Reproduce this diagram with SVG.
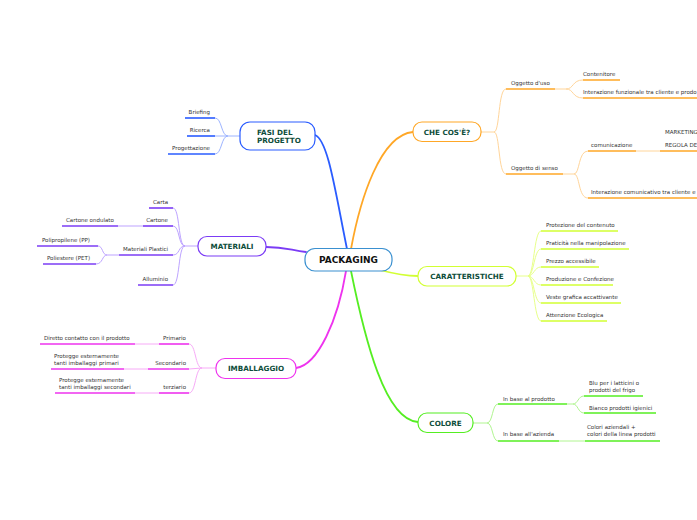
<svg xmlns="http://www.w3.org/2000/svg" width="697" height="520" viewBox="0 0 697 520">
<style>
.t{font-family:"DejaVu Sans",Verdana,sans-serif;font-size:5.5px;fill:#333}
.m{font-family:"DejaVu Sans",Verdana,sans-serif;font-weight:bold;font-size:7.2px;fill:#0d4d3a}
.e{text-anchor:end}
.c{text-anchor:middle}
.box{fill:#fff;stroke-width:1.2}
.u{fill:none;stroke-width:1.6}
.l{fill:none;stroke-width:1}
.main{fill:none;stroke-width:1.8;stroke-linecap:round}
.bl{stroke:#2a5cff}.bll{stroke:#9db4ff}
.or{stroke:#ffa726}.orl{stroke:#ffd59a}
.pu{stroke:#7b3cf5}.pul{stroke:#bda3ff}
.ye{stroke:#d2ff33}.yel{stroke:#e8ff8a}
.mg{stroke:#ee33ee}.mgl{stroke:#f7aaf7}
.gr{stroke:#55ee22}.grl{stroke:#b0f590}
</style>
<rect width="697" height="520" fill="#fff"/>
<g id="connectors">
<path class="main bl" d="M315,135 C328,140 335,190 347,249"/>
<path class="main or" d="M351,249 C360,200 380,135 413,132"/>
<path class="main pu" d="M266,247 C285,247 290,250 306,252"/>
<path class="main ye" d="M380,270 C395,274 405,276 418,276"/>
<path class="main mg" d="M346,271 C338,320 318,365 296,368"/>
<path class="main gr" d="M351,271 C365,340 385,420 418,422"/>
<path class="l bll" d="M240,136 L228,136 C221,136 222,118 215,118 M228,136 L215,136 M228,136 C221,136 222,154 215,154"/>
<path class="l orl" d="M481,132 L494,132 C500,132 498,89 506,89 M494,132 C500,132 498,174 506,174"/>
<path class="l orl" d="M555,89 L566,89 C574,89 572,80 583,80 M566,89 C574,89 572,98 583,98"/>
<path class="l orl" d="M563,174 L574,174 C580,174 578,151 588,151 M574,174 C580,174 578,198 588,198"/>
<path class="l orl" d="M636,151 L660,151"/>
<path class="l pul" d="M198,246 L185,246 C178,246 180,208 173,208 M185,246 C178,246 180,226 173,226 M185,246 C178,246 180,255 173,255 M185,246 C178,246 180,285 173,285"/>
<path class="l pul" d="M143,226 L118,226"/>
<path class="l pul" d="M119,255 L107,255 C102,255 103,246 98,246 M107,255 C102,255 103,264 96,264"/>
<path class="l yel" d="M516,276 L528,276 C534,276 534,231 541,231 M528,276 C534,276 534,249 541,249 M528,276 C534,276 534,267 541,267 M528,276 C534,276 534,285 541,285 M528,276 C534,276 534,303 541,303 M528,276 C534,276 534,321 541,321"/>
<path class="l mgl" d="M216,368 L202,368 C195,368 196,344 189,344 M202,368 L189,369 M202,368 C195,368 196,393 189,393"/>
<path class="l mgl" d="M159,344 L135,344 M148,369 L124,369 M159,393 L135,393"/>
<path class="l grl" d="M473,423 L487,423 C493,423 492,404 498,404 M487,423 C493,423 492,441 498,441"/>
<path class="l grl" d="M567,404 L573,404 C578,404 578,396 584,396 M573,404 C578,404 578,413 584,413"/>
<path class="l grl" d="M559,441 L585,441"/>
</g>
<g id="packaging">
<rect class="box" x="305" y="248.5" width="87" height="22.5" rx="10" stroke="#3a90d0"/>
<text x="348.5" y="263.3" class="c" style="font-family:'DejaVu Sans',Verdana,sans-serif;font-weight:bold;font-size:9px;fill:#111">PACKAGING</text>
</g>
<g id="fasi-del-progetto">
<rect class="box" x="240" y="122" width="75" height="28" rx="10" stroke="#2a5cff"/>
<text class="m" x="257" y="134.9">FASI DEL</text>
<text class="m" x="257" y="143.3">PROGETTO</text>
</g>
<g id="briefing"><path class="u bl" d="M185,118 H215"/><text class="t e" x="210" y="113.9">Briefing</text></g>
<g id="ricerca"><path class="u bl" d="M187,136 H215"/><text class="t e" x="210" y="131.9">Ricerca</text></g>
<g id="progettazione"><path class="u bl" d="M168,154 H215"/><text class="t e" x="210" y="149.9">Progettazione</text></g>
<g id="che-cose">
<rect class="box" x="413" y="122" width="68" height="19.5" rx="9" stroke="#ffa726"/>
<text class="m c" x="447" y="134.6">CHE COS'È?</text>
</g>
<g id="oggetto-uso"><path class="u or" d="M506,89 H555"/><text class="t" x="511" y="85">Oggetto d'uso</text></g>
<g id="contenitore"><path class="u or" d="M583,80 H620"/><text class="t" x="583" y="76">Contenitore</text></g>
<g id="interazione-funzionale"><path class="u or" d="M583,98 H700"/><text class="t" x="583" y="94.2">Interazione funzionale tra cliente e prodo</text></g>
<g id="oggetto-senso"><path class="u or" d="M506,174 H563"/><text class="t" x="511" y="170.2">Oggetto di senso</text></g>
<g id="comunicazione"><path class="u or" d="M588,151 H636"/><text class="t" x="591" y="147">comunicazione</text></g>
<g id="marketing"><path class="u or" d="M660,151 H700"/><text class="t" x="665" y="133.6">MARKETING</text><text class="t" x="665" y="147">REGOLA DE</text></g>
<g id="interazione-comunicativo"><path class="u or" d="M588,198 H700"/><text class="t" x="591" y="193.6">Interazione comunicativo tra cliente e</text></g>
<g id="materiali">
<rect class="box" x="198" y="236.5" width="68" height="19.5" rx="9" stroke="#7b3cf5"/>
<text class="m c" x="232" y="248.8">MATERIALI</text>
</g>
<g id="carta"><path class="u pu" d="M149,208 H173"/><text class="t e" x="168" y="203.9">Carta</text></g>
<g id="cartone"><path class="u pu" d="M143,226 H173"/><text class="t e" x="168" y="221.9">Cartone</text></g>
<g id="cartone-ondulato"><path class="u pu" d="M62,226 H118"/><text class="t" x="66" y="221.9">Cartone ondulato</text></g>
<g id="materiali-plastici"><path class="u pu" d="M119,255 H173"/><text class="t e" x="168" y="250.9">Materiali Plastici</text></g>
<g id="polipropilene"><path class="u pu" d="M37,246 H98"/><text class="t" x="42" y="241.9">Polipropilene (PP)</text></g>
<g id="poliestere"><path class="u pu" d="M43,264 H96"/><text class="t" x="47" y="259.9">Poliestere (PET)</text></g>
<g id="alluminio"><path class="u pu" d="M138,285 H173"/><text class="t e" x="168" y="280.9">Alluminio</text></g>
<g id="caratteristiche">
<rect class="box" x="418" y="266.5" width="98" height="19.5" rx="9" stroke="#d2ff33"/>
<text class="m c" x="467" y="278.8">CARATTERISTICHE</text>
</g>
<g id="protezione"><path class="u ye" d="M541,231 H618"/><text class="t" x="546" y="226.9">Protezione del contenuto</text></g>
<g id="praticita"><path class="u ye" d="M541,249 H629"/><text class="t" x="546" y="245.2">Praticità nella manipolazione</text></g>
<g id="prezzo"><path class="u ye" d="M541,267 H599"/><text class="t" x="546" y="262.6">Prezzo accessibile</text></g>
<g id="produzione"><path class="u ye" d="M541,285 H613"/><text class="t" x="546" y="280.9">Produzione e Confezione</text></g>
<g id="veste"><path class="u ye" d="M541,303 H621"/><text class="t" x="546" y="298.9">Veste grafica accattivante</text></g>
<g id="attenzione"><path class="u ye" d="M541,321 H607"/><text class="t" x="546" y="316.9">Attenzione Ecologica</text></g>
<g id="imballaggio">
<rect class="box" x="216" y="358.5" width="80" height="20" rx="9" stroke="#ee33ee"/>
<text class="m c" x="256" y="371">IMBALLAGGIO</text>
</g>
<g id="primario"><path class="u mg" d="M159,344 H189"/><text class="t e" x="186" y="340.2">Primario</text></g>
<g id="diretto"><path class="u mg" d="M40,344 H135"/><text class="t" x="44" y="340.2">Diretto contatto con il prodotto</text></g>
<g id="secondario"><path class="u mg" d="M148,369 H189"/><text class="t e" x="186" y="364.6">Secondario</text></g>
<g id="protegge-primari"><path class="u mg" d="M51,369 H124"/><text class="t" x="54" y="357.6">Protegge esternamente</text><text class="t" x="54" y="364.6">tanti imballaggi primari</text></g>
<g id="terziario"><path class="u mg" d="M159,393 H189"/><text class="t e" x="186" y="389.2">terziario</text></g>
<g id="protegge-secondari"><path class="u mg" d="M55,393 H135"/><text class="t" x="59" y="382.4">Protegge esternamente</text><text class="t" x="59" y="389.2">tanti imballaggi secondari</text></g>
<g id="colore">
<rect class="box" x="418" y="413" width="55" height="19.5" rx="9" stroke="#55ee22"/>
<text class="m c" x="445.5" y="425.6">COLORE</text>
</g>
<g id="base-prodotto"><path class="u gr" d="M498,404 H567"/><text class="t" x="503" y="400.9">In base al prodotto</text></g>
<g id="blu"><path class="u gr" d="M584,396 H643"/><text class="t" x="589" y="385.2">Blu per i latticini o</text><text class="t" x="589" y="391.9">prodotti del frigo</text></g>
<g id="bianco"><path class="u gr" d="M584,413 H656"/><text class="t" x="589" y="409.6">Bianco prodotti igienici</text></g>
<g id="base-azienda"><path class="u gr" d="M498,441 H559"/><text class="t" x="503" y="436.2">In base all'azienda</text></g>
<g id="colori-aziendali"><path class="u gr" d="M585,441 H660"/><text class="t" x="587" y="429.2">Colori aziendali +</text><text class="t" x="587" y="436.2">colori della linea prodotti</text></g>
</svg>
